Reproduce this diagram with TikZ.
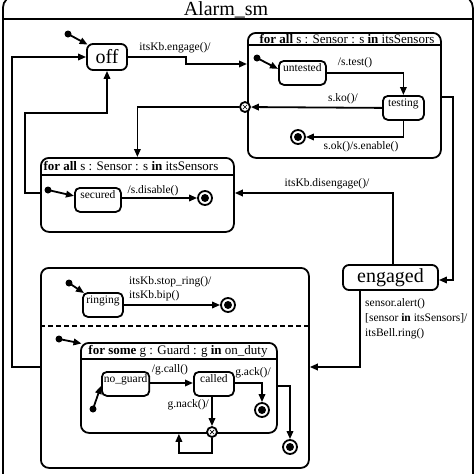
\documentclass[tikz,border=0pt]{standalone}
\usepackage{fontspec}
\setmainfont{Liberation Serif}
\usetikzlibrary{arrows.meta,calc}
\newcommand\lab{\fontsize{11.5}{14}\selectfont}
\newcommand\hdr{\fontsize{13}{15}\selectfont}
\newcommand\bigtxt{\fontsize{20}{22}\selectfont}
\begin{document}
\begin{tikzpicture}[x=1pt,y=-1pt,
  ln/.style={line width=1.8pt},
  stbox/.style={draw, ln, rounded corners=5pt, anchor=north west, inner xsep=2pt, inner ysep=2pt, text height=8.5pt, text depth=11.5pt, font=\lab},
  bigstate/.style={draw, ln, rounded corners=6pt, inner sep=0pt, font=\bigtxt},
  comp/.style={draw, ln, rounded corners=8pt, anchor=north west, inner sep=0pt},
  tr/.style={ln, -{Triangle[length=8pt,width=6.5pt]}},
  lbl/.style={font=\lab, inner sep=1pt},
  initdot/.style={circle, fill, inner sep=0pt, minimum size=7pt},
  final/.style={circle, draw, ln, fill=white, minimum size=14pt, inner sep=0pt,
    path picture={\fill[black] (path picture bounding box.center) circle (4pt);}},
  junc/.style={circle, draw, ln, fill=white, minimum size=10pt, inner sep=0pt,
    path picture={\draw[black, line width=0.7pt] ($(path picture bounding box.center)+(-2.2,-2.2)$) -- ($(path picture bounding box.center)+(2.2,2.2)$)
      ($(path picture bounding box.center)+(-2.2,2.2)$) -- ($(path picture bounding box.center)+(2.2,-2.2)$);}},
]
\useasboundingbox (0,0) rectangle (474,474);
\fill[white] (0,0) rectangle (474,474);

% outer frame
\node[draw, ln, rounded corners=12pt, anchor=north west, minimum width=470pt, minimum height=492pt, inner sep=0pt] (sm) at (2,-5) {};
\node[font=\bigtxt, anchor=base] (title) at (226,15.5) {Alarm\_sm};
\draw[ln] (sm.west |- 0,19) -- (sm.east |- 0,19);

% composite states
\node[comp, minimum width=193pt, minimum height=125pt] (fa1) at (247,32) {};
\draw[ln] (fa1.west |- 0,45) -- (fa1.east |- 0,45);
\node[font=\hdr] (h1) at (347,39) {\textbf{for all} s : Sensor : s \textbf{in} itsSensors};

\node[comp, minimum width=193pt, minimum height=74pt] (fa2) at (40,157) {};
\draw[ln] (fa2.west |- 0,175) -- (fa2.east |- 0,175);
\node[font=\hdr, anchor=west] (h2) at (40,166) {\textbf{for all} s : Sensor : s \textbf{in} itsSensors};

\node[comp, minimum width=268pt, minimum height=200pt] (big) at (40,267) {};
\draw[ln, dash pattern=on 5pt off 3pt] (big.west |- 0,326) -- (big.east |- 0,326);

\node[comp, minimum width=196pt, minimum height=90pt] (fsome) at (80,342) {};
\draw[ln] (fsome.west |- 0,359) -- (fsome.east |- 0,359);
\node[font=\hdr] (h3) at (178,351) {\textbf{for some} g : Guard : g \textbf{in} on\_duty};

% simple states
\node[bigstate, minimum width=40pt, minimum height=26pt] (off) at (107,57) {off};
\node[bigstate, minimum width=95pt, minimum height=25pt] (engaged) at (390.5,277.5) {engaged};
\node[stbox, minimum width=47pt] (untested) at (278,60) {untested};
\node[stbox, minimum width=41pt] (testing) at (382,95) {testing};
\node[stbox, minimum width=46pt] (secured) at (74,187) {secured};
\node[stbox, minimum width=40pt] (ringing) at (82,292) {ringing};
\node[stbox, minimum width=46pt] (noguard) at (101,371) {no\_guard};
\node[stbox, minimum width=40pt] (called) at (193,371) {called};

% initial pseudostates
\node[initdot] (i0) at (68,34) {};
\node[initdot] (i1) at (257,58) {};
\node[initdot] (i2) at (48,190) {};
\node[initdot] (i3) at (69,283) {};
\node[initdot] (i4) at (59,339) {};
\node[initdot] (i5) at (93,409) {};

% final states
\node[final] (f1) at (298,137) {};
\node[final] (f2) at (205,198) {};
\node[final] (f3) at (228,305) {};
\node[final] (f4) at (262,410) {};
\node[final] (f5) at (290,447) {};

% junctions
\node[junc] (j1) at (245,107) {};
\node[junc] (j2) at (212,432) {};

% initial transitions
\draw[tr] (i0.center) -- ($(off.north west)+(1.5,1.5)$);
\draw[tr] (i1.center) -- ($(untested.west)+(0,-4)$);
\draw[tr] (i2.center) -- ($(secured.west)+(0,-4)$);
\draw[tr] (i3.center) -- ($(ringing.north west)+(2,1)$);
\draw[tr] (i4.center) -- ($(fsome.north west)+(1.5,1.5)$);
\draw[tr] (i5.center) -- ($(noguard.west)+(0,2)$);

% transitions
\draw[tr] (off.east) -- (186,57) -- (186,64) -- (fa1.west |- 0,64);
\draw[tr] (untested.east) -| (testing.north);
\draw[tr] (testing.west) -- (j1);
\draw[tr] (j1.west) -| (fa2.north);
\draw[tr] (testing.south) |- (f1.east);
\draw[tr] (fa1.east |- 0,97) -- (453,97) -- (453,280) -- (engaged.east |- 0,280);
\draw[tr] (engaged.north -| 393,0) -- (393,193) -- (fa2.east |- 0,193);
\draw[tr] (secured.east |- 0,198) -- (f2.west);
\draw[tr] (fa2.west |- 0,193) -- (25,193) -- (25,113) -| (off.south);
\draw[tr] (big.west |- 0,367) -- (12,367) |- (off.west);
\draw[tr] (engaged.south -| 360,0) -- (360,367) -- (big.east |- 0,367);
\draw[tr] (ringing.east |- 0,305) -- (f3.west);
\draw[tr] (noguard.east |- 0,383) -- (called.west |- 0,383);
\draw[tr] (called.east |- 0,383) -| (f4.north);
\draw[tr] (called.south -| 212,0) -- (j2.north);
\draw[tr] (j2.south) -- (212,453) -| (fsome.south);
\draw[tr] (fsome.east |- 0,386) -| (f5.north);

% labels
\node[lbl] (lengage) at (175,48) {itsKb.engage()/};
\node[lbl] (ltest) at (355,63) {/s.test()};
\node[lbl] (lko) at (343,99) {s.ko()/};
\node[lbl] (lok) at (361,147) {s.ok()/s.enable()};
\node[lbl] (ldis) at (153,191) {/s.disable()};
\node[lbl] (ldisen) at (327,184) {itsKb.disengage()/};
\node[lbl, align=left, anchor=north west] (lstop) at (128,275) {itsKb.stop\_ring()/\\itsKb.bip()};
\node[lbl, font={\fontsize{11.5}{15}\selectfont}, align=left, anchor=north west] (lalert) at (364,297) {sensor.alert()\\{}[sensor \textbf{in} itsSensors]/\\itsBell.ring()};
\node[lbl] (lcall) at (170,370) {/g.call()};
\node[lbl] (lack) at (253,373) {g.ack()/};
\node[lbl, anchor=east] (lnack) at (210,405) {g.nack()/};
\end{tikzpicture}
\end{document}
